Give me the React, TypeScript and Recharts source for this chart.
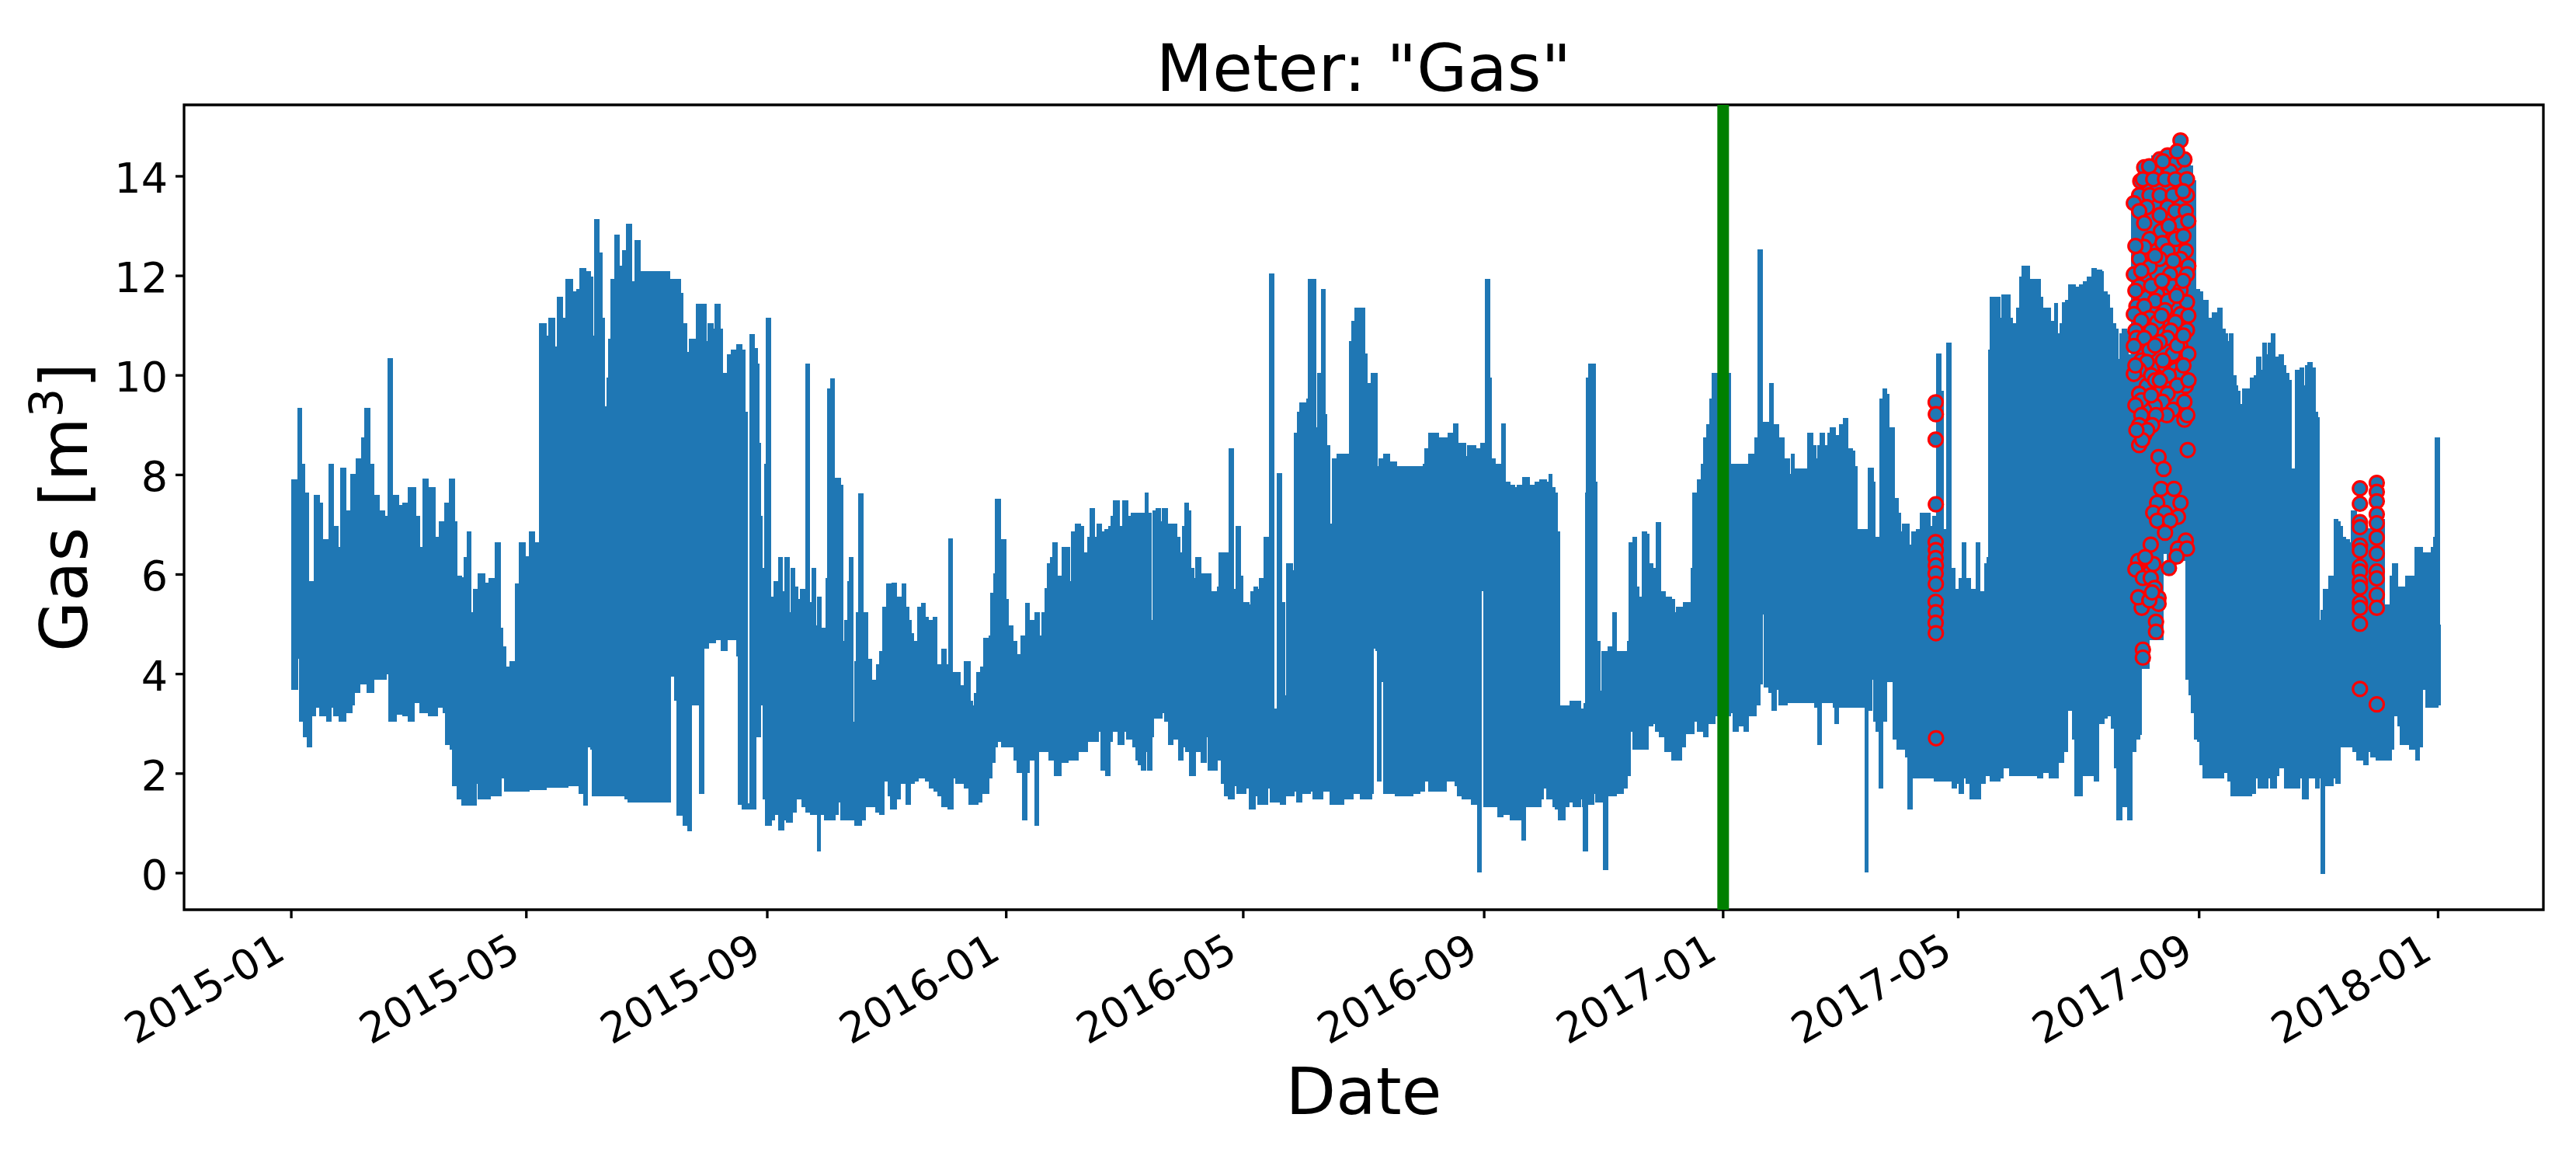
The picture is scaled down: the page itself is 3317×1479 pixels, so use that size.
import React from 'react';
import { ComposedChart, Area, Line, Scatter, XAxis, YAxis, ReferenceArea } from 'recharts';

// ---------- layout ----------
const W = 3317;
const H = 1479;
const PLOT = { left: 237, top: 135, right: 3275, bottom: 1171 };
const FONT = '"DejaVu Sans", "Liberation Sans", sans-serif';
const BLUE = '#1f77b4';

// ---------- axes (x in days since 2015-01-01) ----------
const xDomain: [number, number] = [-54.75, 1149.75];
const yDomain: [number, number] = [-0.735, 15.435];
const xTickDays = [0, 120, 243, 365, 486, 609, 731, 851, 974, 1096];
const xTickLabels = ['2015-01', '2015-05', '2015-09', '2016-01', '2016-05', '2016-09', '2017-01', '2017-05', '2017-09', '2018-01'];
const yTicks = [0, 2, 4, 6, 8, 10, 12, 14];
const changeDay = 731; // 2017-01-01

// ---------- upper envelope of the hourly gas series [day, m3] ----------
const bandTop: [number, number][] = [
  [0.0,6.9],[0.5,7.89],[3.6,9.32],[5.0,8.2],[6.4,7.63],[8.5,5.85],[12.1,7.57],[14.2,7.42],[15.6,6.32],[17.0,6.68],[19.4,8.2],[21.3,6.95],[23.4,6.53],[25.5,8.12],[27.7,7.26],[30.5,7.99],[33.3,8.31],[36.2,8.73],[37.9,9.32],[39.7,8.2],[41.8,7.57],[44.7,7.26],[47.5,7.16],[49.8,10.33],[51.2,7.57],[54.6,7.37],[57.4,7.42],[60.2,7.73],[63.1,7.16],[65.2,6.53],[67.6,7.91],[69.5,6.84],[70.5,7.73],[73.0,6.74],[75.8,7.05],[78.7,7.42],[81.1,7.91],[82.9,7.05],[84.3,5.95],[86.5,5.92],[87.5,5.53],[88.6,6.32],[90.0,6.84],[91.4,5.22],[93.5,5.69],[95.7,6.0],[98.5,5.82],[101.3,5.9],[104.5,6.63],[106.3,4.91],[107.7,4.54],[109.1,4.12],[112.0,4.23],[114.8,5.8],[116.6,6.63],[119.0,6.34],[121.9,6.84],[124.0,6.63],[126.1,6.32],
  [127.1,11.03],[129.7,10.77],[131.8,11.13],[134.0,10.56],[136.3,11.55],[138.2,11.13],[140.6,11.92],[143.1,11.66],[146.0,11.71],[147.7,12.13],[150.2,12.07],[152.3,11.97],[153.5,10.77],[155.2,13.12],[156.9,12.44],[158.5,11.13],[159.7,9.35],[161.6,9.93],[162.3,10.71],[163.7,11.92],[165.4,12.81],[167.2,12.18],[169.4,12.49],[171.5,13.02],[173.3,11.87],[175.7,12.7],[177.6,12.07],[192.7,11.92],[198.4,11.63],[199.4,11.03],[201.7,10.45],[203.4,10.71],[206.2,10.56],[207.2,11.41],[211.4,10.66],[212.9,11.03],[215.0,10.92],[216.7,11.41],[218.5,10.92],[220.0,10.03],[222.8,10.4],[224.9,10.5],[227.7,10.61],[229.9,10.5],[231.3,9.25],[232.3,8.93],[232.6,1.38],[234.5,10.8],[236.2,10.52],[237.7,10.21],[238.4,8.62],[239.1,7.16],[240.2,6.11],[242.2,8.2],[243.0,11.13],[244.2,5.53],[246.9,5.85],[249.0,6.32],[250.4,5.64],[252.5,6.32],[253.9,5.22],[255.4,6.11],[256.8,5.74],[258.2,5.48],[260.3,5.69],[262.9,10.22],[264.3,5.43],[266.3,6.11],[267.4,4.96],[268.8,5.53],[270.2,4.91],[272.4,4.7],[273.5,5.9],[274.2,9.72],[275.6,9.91],[277.0,7.92],[280.2,7.78],[281.3,4.64],[283.0,5.06],[284.4,5.85],[285.4,6.32],[286.5,3.02],[287.9,4.23],[288.7,5.22],[290.1,7.61],[291.5,5.22],[294.1,4.28],[295.8,3.86],[299.3,4.18],[300.7,4.44],[302.1,5.33],[304.3,5.8],[307.1,5.82],[308.5,5.53],[312.0,5.8],[313.5,5.33],[314.9,5.06],[316.3,4.8],[317.3,4.44],[318.4,4.64],[320.1,5.33],[322.0,5.4],[323.4,5.12],[324.8,4.8],[326.2,5.06],[328.1,5.12],[329.1,4.18],[332.6,4.49],[334.0,4.18],[335.9,6.71],[337.1,4.02],[341.1,3.76],[343.9,4.23],[346.1,3.44],[347.5,3.34],[348.9,3.6],[350.3,4.02],[352.4,4.12],[353.8,4.7],[355.3,4.49],[356.7,4.75],[357.4,5.61],[358.8,6.0],[359.9,7.5],[361.6,6.16],[363.1,6.69],[364.5,5.48],[365.9,4.96],[368.0,4.64],[370.1,4.38],[371.6,4.02],[373.0,4.75],[375.1,5.4],[376.5,5.06],[378.7,4.75],[380.1,5.22],[381.5,4.75],[383.6,5.22],[385.0,5.71],[386.4,6.21],[387.9,6.32],[389.3,6.63],[390.7,5.95],[393.9,6.53],[397.1,5.85],[398.5,6.84],[400.6,7.0],[402.7,6.95],[404.2,6.42],[405.6,6.06],[407.0,6.74],[408.1,7.31],[409.8,6.74],[411.9,7.0],[413.4,6.84],[415.5,6.89],[417.6,6.95],[419.0,7.16],[420.2,7.47],[422.6,6.95],[424.7,7.47],[426.8,7.16],
  [429.3,7.21],[430.7,6.84],[432.1,7.21],[436.1,7.63],[437.1,7.21],[438.5,5.06],[440.1,7.26],[442.0,7.31],[443.5,7.05],[444.9,7.31],[447.0,7.0],[448.4,6.74],[449.8,7.0],[451.9,6.74],[453.4,6.42],[454.5,6.16],[455.5,6.95],[456.6,7.42],[457.6,7.26],[458.8,6.11],[460.5,5.9],[462.2,6.32],[464.0,5.64],[465.4,6.0],[469.0,5.43],[470.4,5.64],[473.2,5.74],[473.9,6.42],[477.9,6.32],[478.6,5.06],[479.3,8.52],[480.6,5.69],[481.4,5.06],[482.8,6.95],[484.3,5.95],[485.3,5.22],[486.7,5.43],[488.8,5.38],[490.2,5.64],[491.6,5.74],[493.1,5.69],[494.5,5.9],[495.9,5.69],[497.0,6.74],[498.7,6.06],[499.9,12.02],[501.3,3.28],[503.7,8.01],[505.1,5.43],[506.7,3.55],[508.6,6.21],[510.8,6.06],[512.6,8.83],[514.0,9.25],[515.0,9.43],[518.8,9.51],[519.7,11.92],[522.8,8.93],[524.5,10.03],[526.1,11.71],[527.3,9.2],[528.2,8.57],[529.9,7.0],[530.6,5.95],[531.7,8.31],[534.1,8.41],[539.8,8.31],[540.7,10.66],[541.9,11.08],[543.4,11.34],[545.2,11.08],[546.2,11.34],[547.6,10.42],[549.0,9.82],[550.4,9.09],[551.6,10.03],[554.0,8.15],[555.7,8.31],[558.2,8.41],[560.4,8.25],[563.9,8.15],[578.1,8.2],[579.2,8.52],[580.9,8.83],[585.2,8.73],[590.8,8.83],[593.7,9.02],[595.1,8.62],[599.3,8.36],[600.7,8.57],[604.3,8.52],[606.4,8.41],[607.5,8.62],[609.2,8.36],[610.1,11.92],[611.5,9.93],[612.5,8.31],[614.2,8.1],[615.6,8.2],[618.2,9.02],[619.4,7.84],[622.0,7.78],[624.1,7.73],[626.2,7.78],[629.1,7.94],[631.9,7.78],[635.5,7.84],[637.6,7.89],[640.4,7.84],[642.5,7.99],[643.3,7.73],[645.0,7.63],[646.1,6.84],
  [647.1,3.34],[653.2,3.44],[657.8,3.28],[660.3,3.39],[660.9,7.63],[661.4,9.93],[662.7,10.21],[665.3,7.84],[666.3,4.64],[668.0,3.65],[669.4,4.44],[672.6,4.54],[674.8,5.22],[676.2,4.44],[681.6,4.38],[682.6,4.64],[683.3,6.63],[685.4,6.74],[686.4,5.74],[687.5,5.38],[688.9,5.53],[690.1,6.84],[691.8,6.79],[692.9,6.21],[694.9,5.95],[696.0,6.11],[697.1,7.03],[698.6,5.64],[701.0,5.33],[702.4,5.53],[704.5,5.48],[705.9,5.22],[707.4,5.33],[710.9,5.43],[713.7,5.06],[714.9,6.11],[715.9,7.63],[718.0,7.89],[720.1,8.2],[721.5,8.73],[722.9,8.99],[724.4,9.51],[725.8,10.03],[734.3,7.73],[735.7,8.2],[744.2,8.41],[747.7,8.73],[749.1,12.51],[750.6,8.88],[752.0,9.04],[753.0,8.83],[754.1,9.04],[755.0,9.82],[756.2,8.99],[759.1,8.73],[761.6,8.31],[764.7,7.99],[766.2,8.41],[766.9,8.1],[774.4,8.83],[776.5,8.57],[778.2,8.31],[779.6,8.57],[781.0,8.83],[782.5,8.57],[784.6,8.83],[786.0,8.93],[788.1,8.78],[789.5,8.52],[790.7,8.99],[792.8,9.12],[794.5,8.52],[796.6,8.46],[797.8,8.15],[799.2,6.89],[804.4,6.74],[805.4,8.12],[807.3,7.84],[808.2,6.74],[811.2,9.51],[812.9,9.72],[814.3,9.61],[815.3,7.57],[816.5,8.93],[817.9,7.52],[820.0,7.21],[821.4,6.84],[822.8,7.0],[825.7,6.58],[827.8,6.84],[829.9,6.89],[832.1,7.21],[836.3,6.95],[838.4,7.16],[840.3,10.42],[841.7,9.67],[843.1,6.89],[845.5,10.63],[846.9,6.11],[849.1,5.69],[850.5,5.48],[851.9,5.9],[853.3,6.63],[854.7,5.9],[856.8,5.69],[859.3,5.64],[860.4,6.63],[861.9,5.64],[864.3,5.43],[865.0,6.21],[866.1,6.32],
  [866.7,10.5],[867.8,11.55],[872.1,11.13],[873.5,11.6],[877.0,11.13],[878.4,11.03],[881.3,11.34],[882.7,11.97],[884.1,12.18],[886.9,11.6],[888.4,11.92],[892.6,11.55],[894.0,11.34],[897.8,10.71],[899.0,11.08],[900.4,11.43],[901.5,10.82],[903.2,11.03],[904.6,11.45],[906.3,11.5],[907.8,11.81],[910.3,11.76],[913.1,11.81],[915.3,11.87],[917.4,11.97],[919.5,12.13],[921.0,11.87],[922.4,12.1],[924.1,12.07],[924.8,11.66],[926.6,11.6],[928.0,11.34],[929.4,11.03],[930.9,10.92],[932.3,10.3],[933.7,10.82],[935.1,10.92],[936.5,10.87],[937.5,10.4],[938.7,10.19],[939.8,13.5],[942.0,13.9],[946.0,14.0],[950.0,14.4],[957.0,14.45],[964.0,14.72],[965.5,14.35],[969.0,14.2],[970.5,13.9],[972.0,11.71],[974.1,11.66],[975.5,11.5],[978.3,11.13],[979.7,11.03],[981.2,11.24],[982.6,10.87],[984.0,11.34],[985.4,10.92],[986.8,10.82],[988.2,10.66],[989.7,10.82],[990.8,9.98],[992.5,9.77],[993.2,9.67],[994.6,9.04],[995.6,9.41],[996.7,9.72],[1000.3,9.93],[1002.4,9.98],[1003.5,10.35],[1005.3,10.09],[1006.7,10.63],[1008.1,10.4],[1009.5,10.63],[1011.3,10.82],[1012.3,10.35],[1013.8,10.03],[1015.2,10.4],[1016.6,10.19],[1018.0,10.03],[1019.4,9.88],[1020.8,8.1],[1022.3,6.21],[1023.4,10.09],[1025.8,10.14],[1027.2,9.77],[1028.6,10.19],[1030.0,10.24],[1031.5,10.14],[1032.9,9.25],[1034.3,9.14],[1035.0,5.06],[1036.4,5.27],[1037.8,5.69],[1040.7,5.95],[1043.2,7.1],[1044.6,7.05],[1045.6,6.95],[1047.0,6.74],[1048.6,6.69],[1050.6,6.63],[1051.9,7.26],[1054.0,7.1],[1058.5,6.9],[1062.0,7.3],[1066.0,7.1],[1068.4,5.38],[1071.7,5.95],[1073.0,6.21],[1075.0,5.74],[1079.7,5.95],[1083.6,5.85],[1084.7,6.53],[1087.6,6.27],[1088.9,6.42],[1092.9,6.53],[1094.2,6.74],[1094.9,8.73],[1096.9,8.73],
];

// ---------- lower envelope of the hourly gas series [day, m3] ----------
const bandBottom: [number, number][] = [
  [0.0,4.54],[0.7,3.7],[2.9,4.33],[4.7,3.07],[6.4,2.76],[8.5,2.55],[9.9,3.18],[12.1,3.34],[14.9,3.18],[18.4,3.07],[19.9,3.34],[22.0,3.18],[24.8,3.07],[27.7,3.23],[30.5,3.39],[31.9,3.65],[34.7,3.81],[39.0,3.65],[41.8,3.91],[48.2,4.02],[50.0,3.07],[53.2,3.2],[57.4,3.18],[60.2,3.07],[62.4,3.44],[65.9,3.23],[70.2,3.18],[74.4,3.34],[78.0,3.23],[79.1,2.6],[81.5,2.5],[82.6,1.77],[85.0,1.51],[87.2,1.38],[91.4,1.38],[94.3,1.82],[95.7,1.51],[101.3,1.56],[107.0,1.93],[109.1,1.66],[121.2,1.69],[129.7,1.74],[141.0,1.77],[147.4,1.61],[149.5,1.38],[150.9,2.55],[153.1,2.5],[153.8,1.56],[156.3,2.45],[157.7,1.56],[170.8,1.51],[172.2,1.45],[193.2,3.97],[196.0,3.49],[197.1,1.17],[200.5,0.98],[202.7,0.86],[204.1,3.39],[208.7,1.61],[210.4,4.54],[212.6,4.64],[216.4,4.7],[218.5,4.85],[219.9,4.49],[222.1,4.7],[227.0,4.8],[227.7,4.38],[228.4,1.4],[230.6,1.3],[236.9,3.76],[237.9,2.76],[239.1,3.39],[240.2,3.49],[241.2,1.51],[242.6,0.98],[244.7,1.09],[246.2,1.45],[247.6,1.19],[249.0,0.88],[251.1,1.09],[253.2,1.04],[255.4,1.24],[257.5,1.51],[260.0,3.6],[261.0,1.35],[263.2,1.24],[265.3,1.19],[268.8,0.46],[269.8,1.19],[272.4,1.09],[277.3,1.19],[278.8,1.45],[280.9,1.09],[288.0,0.98],[290.8,1.09],[292.9,1.35],[298.6,1.24],[300.7,1.19],[302.1,1.98],[303.5,1.87],[304.9,1.56],[306.4,1.3],[308.5,1.51],[310.6,1.82],[312.8,1.93],[314.2,1.4],[315.6,1.82],[317.7,1.87],[319.8,1.93],[324.1,1.87],[326.2,1.72],[328.3,1.66],[330.5,1.56],[332.6,1.35],[335.4,1.3],[337.6,1.93],[339.7,1.82],[343.9,1.72],[346.1,1.4],[350.3,1.45],[352.4,1.61],[356.0,1.93],[357.4,2.24],[358.8,2.55],[360.2,2.66],[361.6,2.76],[363.1,2.55],[369.4,2.29],[370.9,2.03],[373.7,1.09],[375.1,2.03],[376.5,2.29],[378.7,2.55],[379.8,0.98],[381.1,2.45],[387.1,2.29],[390.0,1.98],[392.8,2.24],[396.4,2.29],[401.3,2.45],[406.3,2.66],[411.9,2.87],[413.6,2.08],[416.2,1.98],[417.6,2.66],[419.0,2.87],[422.6,2.6],[424.7,2.87],[426.8,2.71],
  [430.0,2.55],[431.4,2.29],[432.8,2.19],[434.2,2.08],[435.7,2.45],[437.5,2.08],[438.9,2.76],[439.9,3.13],[444.2,3.23],[446.3,3.07],[448.0,2.6],[449.8,2.71],[453.4,2.29],[454.8,2.55],[456.9,2.45],[459.0,1.98],[461.2,2.45],[464.7,2.24],[466.8,2.76],[468.3,2.08],[472.5,2.29],[475.3,1.82],[476.8,1.56],[478.9,1.51],[481.0,1.77],[483.1,1.61],[487.1,1.72],[489.5,1.3],[491.6,1.56],[493.8,1.4],[498.0,1.72],[500.1,1.45],[505.1,1.4],[507.2,1.56],[511.5,1.66],[513.6,1.45],[515.7,1.61],[520.0,1.66],[522.1,1.51],[526.3,1.66],[530.6,1.4],[537.0,1.51],[541.9,1.61],[546.2,1.51],[551.2,1.61],[552.0,4.54],[554.0,4.49],[554.7,1.87],[556.1,4.33],[557.2,3.86],[558.2,1.61],[563.9,1.56],[572.4,1.61],[575.9,1.66],[578.1,1.87],[580.9,1.66],[589.4,1.87],[594.4,1.77],[595.8,1.56],[597.9,1.51],[602.9,1.4],[605.0,1.72],[606.1,0.04],[607.1,5.69],[609.0,1.35],[616.3,1.14],[618.4,1.19],[622.7,1.09],[628.4,0.67],[629.8,1.35],[637.6,1.51],[639.0,1.72],[641.1,1.51],[644.3,1.35],[645.7,1.3],[647.1,1.09],[650.0,1.35],[652.1,1.45],[654.9,1.35],[657.8,1.51],[659.5,1.35],[660.0,0.46],[661.3,1.4],[664.8,1.61],[666.3,1.45],[669.4,1.56],[670.2,0.09],[671.6,1.56],[676.2,1.61],[679.7,1.72],[681.8,1.98],[683.3,2.87],[685.4,2.5],[692.5,2.97],[694.6,3.02],[696.7,2.87],[698.8,2.76],[701.7,2.45],[705.2,2.29],[709.5,2.55],[711.6,2.81],[715.9,3.07],[718.0,2.87],[721.5,2.76],[722.9,3.02],[726.5,3.18],[734.3,3.23],[736.4,2.87],[738.5,2.97],[742.1,2.87],[743.5,3.18],[747.7,3.39],[749.6,3.81],[750.6,5.22],[752.4,3.76],[754.8,3.65],[756.2,3.28],[757.7,3.7],[759.8,3.39],[763.3,3.44],[778.2,3.34],[779.6,2.6],[781.0,3.44],[787.4,3.34],[788.4,3.02],[789.5,3.34],[803.0,3.39],[803.7,0.04],[804.8,3.28],[806.5,3.91],[808.0,3.07],[809.4,2.87],[810.8,1.72],[812.2,3.07],[814.3,3.86],[817.2,3.91],[817.9,2.71],[820.0,2.5],[824.3,2.34],[825.7,1.3],[827.1,1.93],[839.1,1.87],[848.3,1.72],[849.7,1.82],[851.9,1.61],[853.3,1.93],[855.4,1.82],[857.5,1.51],
  [859.3,1.51],[862.1,1.82],[864.3,1.98],[867.8,1.87],[872.1,1.93],[873.5,2.13],[877.7,1.98],[891.9,1.93],[894.0,2.03],[897.6,1.93],[899.0,3.81],[900.0,1.93],[901.8,2.24],[904.6,2.45],[906.5,3.28],[909.6,2.71],[911.0,1.56],[913.9,2.19],[915.3,1.98],[920.9,1.87],[922.4,3.02],[925.2,3.13],[926.6,3.34],[928.0,3.18],[929.4,2.92],[930.9,2.13],[932.3,1.09],[934.4,1.35],[937.9,1.09],[939.4,2.45],[941.5,2.71],[943.4,2.8],[944.0,4.13],[948.0,4.7],[955.3,6.44],[958.0,6.3],[967.3,6.4],[967.7,3.91],[969.1,3.6],[970.5,3.23],[972.0,2.71],[973.4,2.66],[974.8,2.19],[976.2,1.93],[986.1,2.03],[988.9,1.87],[990.4,1.56],[1000.3,1.61],[1002.4,1.93],[1004.5,1.72],[1008.8,1.93],[1010.9,1.72],[1013.0,1.98],[1014.5,2.19],[1014.9,5.85],[1015.6,2.13],[1018.0,1.72],[1025.1,1.93],[1027.2,1.51],[1029.3,1.93],[1033.6,1.72],[1035.0,1.93],[1036.4,0.0],[1037.8,1.77],[1042.1,1.93],[1044.2,1.82],[1045.6,3.76],[1047.0,2.55],[1052.7,2.45],[1054.9,2.29],[1058.4,2.19],[1059.8,2.45],[1062.0,2.34],[1064.8,2.29],[1071.7,2.5],[1073.0,3.18],[1075.7,2.97],[1077.0,2.6],[1081.6,2.5],[1084.9,2.29],[1086.3,2.55],[1087.6,3.7],[1088.9,3.76],[1090.2,3.34],[1095.5,3.39],[1096.9,5.0],
];

// ---------- detected anomalies [day, m3] ----------
const anomaliesApr: [number, number][] = [
  [839.5,9.46],[839.6,9.22],[839.5,8.71],[839.6,7.41],[839.5,6.65],[839.6,6.49],[839.5,6.33],[839.6,6.18],[839.5,6.02],[839.6,5.81],[839.5,5.45],[839.6,5.24],[839.5,5.03],[839.6,4.82],[839.7,2.71],
];
const anomaliesAug: [number, number][] = [
  [964.5,14.72],[953.9,14.34],[957.9,14.42],[961.9,14.26],[966.5,14.34],[946.0,14.18],[951.3,14.10],[959.2,14.10],[948.5,14.2],[955.5,14.3],[962.8,14.5],[944.0,13.9],
  [945.3,13.94],[950.6,13.94],[956.6,13.94],[961.9,13.94],[967.8,13.94],[943.4,13.62],[948.7,13.62],[953.9,13.62],[960.6,13.62],[967.8,13.62],[965.8,13.7],
  [940.7,13.46],[947.3,13.38],[957.9,13.38],[943.4,13.30],[953.9,13.22],[961.9,13.30],[967.2,13.30],[946.0,13.06],[964.5,13.06],[968.5,13.1],[954.5,12.9],[958.5,13.0],
  [948.7,12.74],[955.3,12.66],[961.9,12.74],[946.0,12.58],[957.9,12.50],[967.2,12.50],[943.4,12.34],[953.9,12.34],[964.5,12.34],[948.7,12.18],[941.5,12.6],[951.5,12.4],[960.8,12.3],[966.0,12.8],[968.5,12.2],
  [940.7,12.03],[959.2,12.03],[967.8,12.03],[946.0,11.94],[956.6,11.87],[943.4,11.79],[960.6,11.79],[964.5,11.71],[952.6,11.63],[967.8,11.47],[944.5,12.1],[949.5,11.8],[941.5,11.7],[951.5,11.5],[955.0,11.9],[958.0,11.5],[962.5,11.6],[965.8,11.9],
  [942.0,11.39],[946.0,11.39],[956.6,11.31],[940.7,11.23],[964.5,11.23],[948.7,11.15],[952.6,11.07],[961.9,11.07],[967.8,10.91],[944.5,11.1],[949.5,10.9],[954.8,11.2],[959.5,10.9],[968.5,11.2],[941.5,10.9],
  [942.0,10.75],[946.0,10.75],[957.9,10.75],[953.9,10.67],[940.7,10.59],[964.5,10.59],[948.7,10.51],[960.6,10.43],[968.5,10.43],[951.5,10.6],[962.8,10.6],[966.0,10.8],[944.5,10.3],
  [947.3,10.27],[956.6,10.19],[943.4,10.11],[961.9,10.11],[940.7,10.03],[964.5,10.03],[952.6,9.95],[947.3,9.79],[967.2,9.79],[941.5,10.2],[949.5,10.0],[955.5,10.3],[958.5,10.0],[966.0,10.2],[951.5,9.9],[954.0,9.9],[962.8,9.8],[968.6,9.9],
  [943.4,9.63],[957.9,9.63],[955.3,9.47],[966.5,9.47],[951.3,9.39],[946.0,9.31],[960.6,9.31],[966.5,9.11],[944.5,9.5],[949.5,9.6],[941.5,9.4],[957.5,9.2],[968.0,9.2],[944.5,9.2],[952.0,9.2],
  [943.4,9.00],[950.0,9.00],[946.0,8.80],[943.4,8.60],[968.2,8.50],[953.3,8.36],[955.9,8.12],[947.5,8.9],[945.0,8.7],[942.0,8.9],
  [954.6,7.72],[961.2,7.72],[952.6,7.44],[964.5,7.44],[950.6,7.24],[956.6,7.24],[963.2,7.16],[952.6,7.08],[959.2,7.08],
  [956.6,6.84],[967.2,6.68],[949.3,6.60],[963.2,6.52],[967.8,6.52],[962.5,6.36],[943.4,6.21],[950.6,6.21],[958.6,6.13],[942.9,6.27],[941.5,6.1],[946.5,6.35],
  [945.3,5.93],[949.3,5.93],[951.3,5.73],[943.4,5.53],[953.3,5.53],[953.3,5.41],[944.7,5.33],[942.9,5.54],[948.6,5.48],[950.0,5.64],[952.0,5.05],[952.0,4.85],[945.3,4.49],[945.3,4.33],
];
const anomaliesDec: [number, number][] = [
  [1056.1,7.73],[1056.1,7.42],[1056.1,7.05],[1056.1,6.95],[1056.1,6.58],[1056.1,6.48],[1056.1,6.16],[1056.1,6.06],[1056.1,5.85],[1056.1,5.74],[1056.1,5.43],[1056.1,5.33],[1056.1,5.01],[1056.1,3.70],
  [1064.7,7.84],[1064.7,7.66],[1064.7,7.47],[1064.7,7.21],[1064.7,7.03],[1064.7,6.74],[1064.7,6.42],[1064.7,6.06],[1064.7,5.92],[1064.7,5.59],[1064.7,5.33],[1064.7,3.39],
];

// ---------- tables for the library ----------
const topData = bandTop.map(([d, v]) => ({ d, v }));
const bottomData = bandBottom.map(([d, v]) => ({ d, v }));
const anomalyData = [...anomaliesApr, ...anomaliesAug, ...anomaliesDec].map(([d, v]) => ({ d, v }));
const changeData = [{ d: changeDay, v: yDomain[0] }, { d: changeDay, v: yDomain[1] }];

const XTick = (props: any) => {
  const { x, payload } = props;
  const i = xTickDays.indexOf(payload.value);
  const ax = x - 5;
  const ay = PLOT.bottom + 61.5;
  return (
    <text x={ax} y={ay} textAnchor="end" transform={`rotate(-30 ${ax} ${ay})`}
      fontSize={54} fontFamily={FONT} fill="#000">
      {i >= 0 ? xTickLabels[i] : ''}
    </text>
  );
};

const YTick = (props: any) => {
  const { y, payload } = props;
  return (
    <text x={PLOT.left - 21} y={y + 21} textAnchor="end" fontSize={54} fontFamily={FONT} fill="#000">
      {payload.value}
    </text>
  );
};

const AnomalyDot = (props: any) => {
  const { cx, cy } = props;
  if (cx == null || cy == null) return null;
  return <circle cx={cx} cy={cy} r={9} fill={BLUE} stroke="#ff0000" strokeWidth={3.2} />;
};

export default function App() {
  return (
    <div style={{ position: 'absolute', left: 0, top: 0, width: W, height: H, background: '#ffffff' }}>
      <style>{'.recharts-area path { shape-rendering: crispEdges; }'}</style>
      <ComposedChart
        width={W}
        height={H}
        margin={{ top: PLOT.top, right: W - PLOT.right, bottom: 0, left: 0 }}
      >
        <XAxis
          dataKey="d"
          type="number"
          domain={xDomain}
          allowDataOverflow
          ticks={xTickDays}
          interval={0}
          height={H - PLOT.bottom}
          axisLine={false}
          tickLine={{ stroke: '#000', strokeWidth: 3.3 }}
          tickSize={11}
          tick={<XTick />}
        />
        <YAxis
          type="number"
          domain={yDomain}
          allowDataOverflow
          ticks={yTicks}
          interval={0}
          width={PLOT.left}
          axisLine={false}
          tickLine={{ stroke: '#000', strokeWidth: 3.3 }}
          tickSize={11}
          tick={<YTick />}
        />
        <Area
          data={topData}
          dataKey="v"
          type="stepAfter"
          baseValue={0}
          fill={BLUE}
          fillOpacity={1}
          stroke={BLUE}
          strokeWidth={3}
          dot={false}
          activeDot={false}
          isAnimationActive={false}
        />
        <Area
          data={bottomData}
          dataKey="v"
          type="stepAfter"
          baseValue={0}
          fill="#ffffff"
          fillOpacity={1}
          stroke={BLUE}
          strokeWidth={3}
          dot={false}
          activeDot={false}
          isAnimationActive={false}
        />
        <Line
          data={changeData}
          dataKey="v"
          stroke="#008000"
          strokeWidth={15}
          dot={false}
          activeDot={false}
          isAnimationActive={false}
        />
        <Scatter
          data={anomalyData}
          dataKey="v"
          shape={<AnomalyDot />}
          isAnimationActive={false}
        />
        <ReferenceArea
          x1={xDomain[0]}
          x2={xDomain[1]}
          y1={yDomain[0]}
          y2={yDomain[1]}
          fill="none"
          stroke="#000"
          strokeWidth={3.3}
          ifOverflow="visible"
        />
      </ComposedChart>
      <svg width={W} height={H} style={{ position: 'absolute', left: 0, top: 0, pointerEvents: 'none' }}>
        <text x={(PLOT.left + PLOT.right) / 2} y={117} textAnchor="middle" fontSize={84} fontFamily={FONT} fill="#000">
          Meter: "Gas"
        </text>
        <text x={(PLOT.left + PLOT.right) / 2} y={1434} textAnchor="middle" fontSize={84} fontFamily={FONT} fill="#000">
          Date
        </text>
        <text transform="rotate(-90)" x={-(PLOT.top + PLOT.bottom) / 2} y={112} textAnchor="middle"
          fontSize={84} fontFamily={FONT} fill="#000">
          Gas [m<tspan dy={-32} fontSize={59}>3</tspan><tspan dy={32}>]</tspan>
        </text>
      </svg>
    </div>
  );
}
